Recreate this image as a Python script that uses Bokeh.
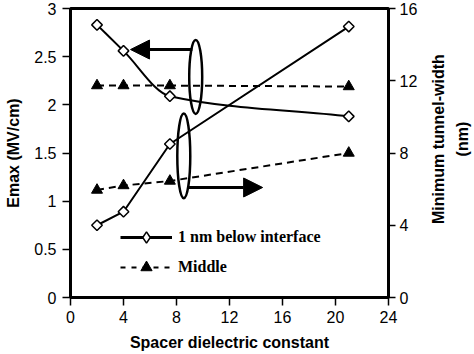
import numpy as np
from bokeh.plotting import figure
from bokeh.layouts import row
from bokeh.core.properties import value
from bokeh.models import (Range1d, LinearAxis, FixedTicker, Legend, LegendItem,
                          Arrow, NormalHead)
from bokeh.embed import file_html
from bokeh.resources import INLINE

# ---- data ----
spacer_k = [2, 4, 7.5, 21]
emax_interface = [2.83, 2.56, 2.09, 1.88]      # MV/cm, left axis
emax_middle = [2.2, 2.2, 2.2, 2.19]            # MV/cm, left axis
width_interface = [4.0, 4.75, 8.5, 15.0]       # nm, right axis
width_middle = [5.95, 6.2, 6.45, 8.0]          # nm, right axis

x_ticks = [0, 4, 8, 12, 16, 20, 24]
x_tick_labels = ["0", "4", "8", "12", "16", "20", "24"]
left_ticks = [0, 0.5, 1, 1.5, 2, 2.5, 3]
left_tick_labels = ["0", "0.5", "1", "1.5", "2", "2.5", "3"]
right_ticks = [0, 4, 8, 12, 16]
right_tick_labels = ["0", "4", "8", "12", "16"]

series_labels = ["1 nm below interface", "Middle"]
right_title = "Minimum tunnel-width\n(nm)"

# annotation marks (ellipses and arrows)
ell_x = [9.45, 8.55]
ell_y = [2.29, 1.47]
ell_w = [0.98, 0.98]
ell_h = [0.77, 0.88]

TICK_FONT = "Liberation Sans"

p = figure(width=420, height=354, x_range=Range1d(0, 24), y_range=Range1d(0, 3),
           output_backend="svg", toolbar_location=None,
           min_border_left=70, min_border_right=32, min_border_top=8, min_border_bottom=57)
p.extra_y_ranges = {"right": Range1d(0, 16)}
p.xgrid.visible = False
p.ygrid.visible = False
p.outline_line_color = "black"
p.outline_line_width = 3
p.background_fill_color = "white"
p.border_fill_color = "white"

# smooth curve for the Emax (interface) series: cubic Hermite via bezier
xs = np.array(spacer_k, dtype=float)
ys = np.array(emax_interface, dtype=float)
n = len(xs)
m = np.zeros(n)
m[0] = (ys[1] - ys[0]) / (xs[1] - xs[0])
m[-1] = (ys[-1] - ys[-2]) / (xs[-1] - xs[-2])
for i in range(1, n - 1):
    m[i] = (ys[i + 1] - ys[i - 1]) / (xs[i + 1] - xs[i - 1])
m[-2] = 0.6 * m[-2] + 0.4 * (ys[-1] - ys[-2]) / (xs[-1] - xs[-2])
h = xs[1:] - xs[:-1]
p.bezier(x0=xs[:-1], y0=ys[:-1], x1=xs[1:], y1=ys[1:],
         cx0=xs[:-1] + h / 3, cy0=ys[:-1] + m[:-1] * h / 3,
         cx1=xs[1:] - h / 3, cy1=ys[1:] - m[1:] * h / 3,
         line_color="black", line_width=2)

# Emax middle (dashed, triangles)
p.line(spacer_k, emax_middle, line_color="black", line_width=2, line_dash="7 5")
p.scatter(spacer_k, emax_middle, marker="triangle", size=11, fill_color="black",
          line_color="black")
p.scatter(spacer_k, emax_interface, marker="square", angle=np.pi / 4, size=7.5,
          fill_color="white", line_color="black", line_width=1.5)

# tunnel width (right axis)
p.line(spacer_k, width_interface, y_range_name="right", line_color="black", line_width=2)
p.line(spacer_k, width_middle, y_range_name="right", line_color="black",
       line_width=2, line_dash="7 5")
p.scatter(spacer_k, width_middle, y_range_name="right", marker="triangle", size=11,
          fill_color="black", line_color="black")
p.scatter(spacer_k, width_interface, y_range_name="right", marker="square",
          angle=np.pi / 4, size=7.5, fill_color="white", line_color="black",
          line_width=1.5)

# legend-only renderers (no visible data)
nan = [np.nan]
lg_l1 = p.line(nan, nan, line_color="black", line_width=3)
lg_m1 = p.scatter(nan, nan, marker="diamond", fill_color="white", line_color="black",
                  line_width=1.5)
lg_l2 = p.line(nan, nan, line_color="black", line_width=2, line_dash="5 6")
lg_m2 = p.scatter(nan, nan, marker="triangle", fill_color="black", line_color="black")

# ellipses
p.ellipse(x=ell_x, y=ell_y, width=ell_w, height=ell_h, fill_alpha=0,
          line_color="black", line_width=2.5)

# arrows
p.add_layout(Arrow(end=NormalHead(size=19, fill_color="black", line_color="black"),
                   x_start=9.2, y_start=2.574, x_end=4.53, y_end=2.574,
                   line_color="black", line_width=3))
p.add_layout(Arrow(end=NormalHead(size=19, fill_color="black", line_color="black"),
                   x_start=8.85, y_start=1.142, x_end=14.5, y_end=1.142,
                   line_color="black", line_width=3))

# axes
def style_axis(ax, ticks, labels):
    ax.ticker = FixedTicker(ticks=ticks)
    ax.major_label_overrides = {t: l for t, l in zip(ticks, labels)}
    ax.axis_line_width = 3
    ax.axis_line_color = "black"
    ax.major_tick_in = 0
    ax.major_tick_out = 8
    ax.major_tick_line_width = 1.5
    ax.minor_tick_line_color = None
    ax.major_label_text_font = TICK_FONT
    ax.major_label_text_font_size = "16px"
    ax.major_label_text_color = "black"
    ax.axis_label_text_font = TICK_FONT
    ax.axis_label_text_font_size = "16px"
    ax.axis_label_text_font_style = "bold"
    ax.axis_label_text_color = "black"

style_axis(p.xaxis[0], x_ticks, x_tick_labels)
p.xaxis.axis_label = "Spacer dielectric constant"
p.xaxis.major_label_standoff = 5
p.xaxis.axis_label_standoff = 8

style_axis(p.yaxis[0], left_ticks, left_tick_labels)
p.yaxis.axis_label = "Emax (MV/cm)"
p.yaxis.major_label_standoff = 6
p.yaxis.axis_label_standoff = 9

ry = LinearAxis(y_range_name="right")
style_axis(ry, right_ticks, right_tick_labels)
ry.major_tick_out = 7
ry.major_label_standoff = 4
p.add_layout(ry, "right")

legend = Legend(items=[LegendItem(label=series_labels[0], renderers=[lg_l1, lg_m1]),
                       LegendItem(label=series_labels[1], renderers=[lg_l2, lg_m2])],
                location=(50, 16), glyph_width=52, glyph_height=28, label_height=20,
                label_standoff=6, spacing=2, padding=0, margin=0,
                border_line_alpha=0, background_fill_alpha=0,
                label_text_font="Liberation Serif", label_text_font_style="bold",
                label_text_font_size="16px", label_text_color="black")
p.add_layout(legend)

# right-hand title panel (pixel coordinates), text reads bottom-to-top
p2 = figure(width=54, height=354, x_range=Range1d(0, 54), y_range=Range1d(0, 354),
            output_backend="svg", toolbar_location=None,
            min_border=0, min_border_left=0, min_border_right=0,
            min_border_top=0, min_border_bottom=0)
p2.axis.visible = False
p2.xgrid.visible = False
p2.ygrid.visible = False
p2.outline_line_color = None
p2.background_fill_color = "white"
p2.border_fill_color = "white"
p2.text(x=[30], y=[194], text=[right_title], angle=np.pi / 2,
        text_align="center", text_baseline="middle",
        text_font=value(TICK_FONT), text_font_size="16px", text_font_style="bold",
        text_color="black", text_line_height=1.4)

layout = row(p, p2, spacing=0)
open("out.html", "w").write(file_html(layout, INLINE))
